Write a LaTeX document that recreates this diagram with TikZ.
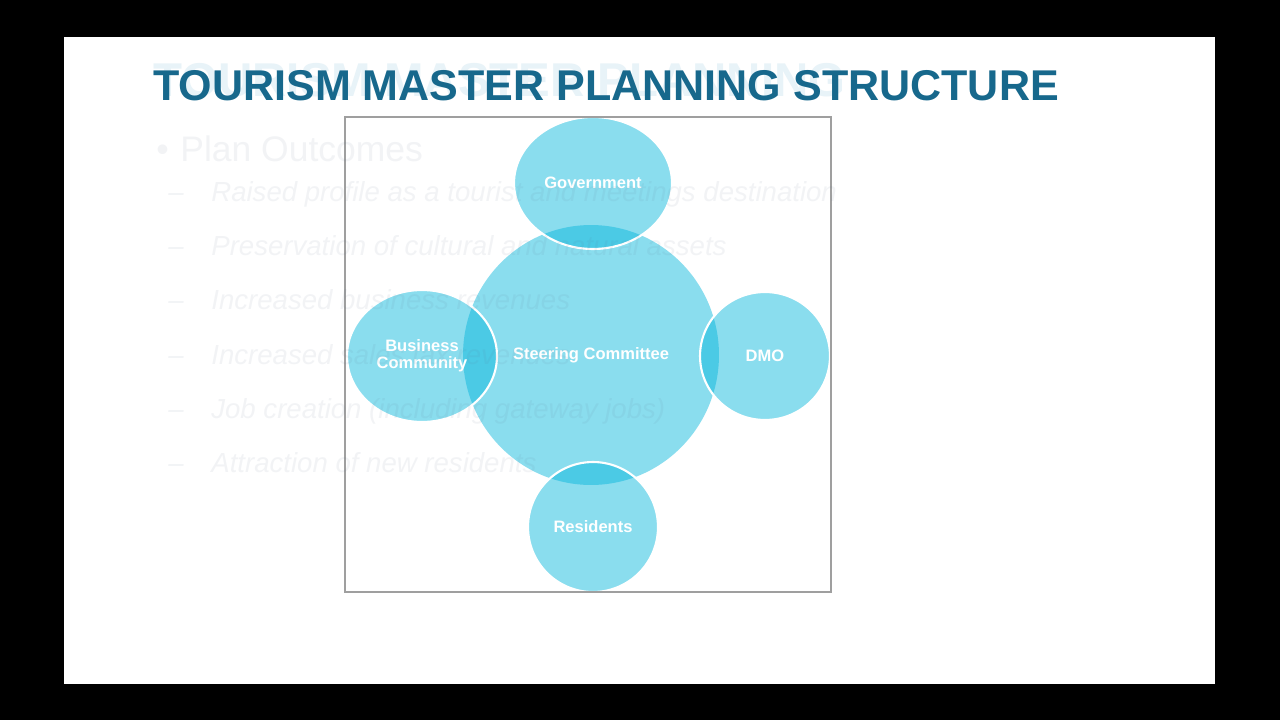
\documentclass[tikz,border=0pt]{standalone}
\usepackage{fontspec}
\setmainfont{Liberation Sans}
\usepackage{xcolor}
\usepackage{tikz}
\usetikzlibrary{shapes.geometric,positioning}
\definecolor{titleblue}{RGB}{23,104,140}
\definecolor{bubblecyan}{RGB}{1,181,220}
\definecolor{ghostgray}{RGB}{90,110,140}
\definecolor{ghostcyan}{RGB}{232,243,248}
\tikzstyle{bubble} = [ellipse, fill=bubblecyan, fill opacity=0.46, text opacity=1, inner sep=0pt, text=white, align=center, font=\fontsize{9.4}{9.8}\selectfont\bfseries]
\tikzstyle{member} = [bubble, draw=white, line width=1.2pt]
\tikzstyle{ghost} = [anchor=base west, inner sep=0pt, text=ghostgray, text opacity=0.08]
\tikzstyle{ghostitem} = [ghost, font=\fontsize{15.7}{18}\selectfont\itshape]

\begin{document}
\begin{tikzpicture}[x=0.02cm, y=-0.02cm]
    % slide
    \fill[black] (0,0) rectangle (1280,720);
    \fill[white] (64,37) rectangle (1215,684);

    \node[anchor=base west, inner sep=0pt, text=ghostcyan, font=\fontsize{27}{30}\selectfont\bfseries] (oldtitle) at (153,96) {TOURISM MASTER PLANNING};
    \node[anchor=base west, inner sep=0pt, text=titleblue, font=\fontsize{24.5}{28}\selectfont\bfseries] (title) at (153,100) {TOURISM MASTER PLANNING STRUCTURE};

    % structure diagram
    \node[bubble, minimum width=5.12cm, minimum height=5.2cm] (steer) at (591,355) {Steering Committee};
    \node[member, minimum width=3.16cm, minimum height=2.64cm] (gov) at (593,183) {Government};
    \node[member, minimum width=3.0cm, minimum height=2.64cm] (biz) at (422,356) {Business\\Community};
    \node[member, minimum width=2.6cm, minimum height=2.56cm] (dmo) at (765,356) {DMO};
    \node[member, minimum width=2.6cm, minimum height=2.6cm] (res) at (593,527) {Residents};
    \draw[gray!75, line width=0.6pt] (345,117) rectangle (831,592);

    % fading slide underneath
    \node[ghost, font=\fontsize{20.2}{22}\selectfont] (bul) at (156,161) {\textbullet};
    \node[ghost, font=\fontsize{20.2}{22}\selectfont] (outc) at (180,161) {Plan Outcomes};
    \node[ghostitem] (d1) at (168,201) {--};
    \node[ghostitem] (o1) at (211,201) {Raised profile as a tourist and meetings destination};
    \node[ghostitem] (d2) at (168,255) {--};
    \node[ghostitem] (o2) at (211,255) {Preservation of cultural and natural assets};
    \node[ghostitem] (d3) at (168,309) {--};
    \node[ghostitem] (o3) at (211,309) {Increased business revenues};
    \node[ghostitem] (d4) at (168,364) {--};
    \node[ghostitem] (o4) at (211,364) {Increased sales tax revenues};
    \node[ghostitem] (d5) at (168,418) {--};
    \node[ghostitem] (o5) at (211,418) {Job creation (including gateway jobs)};
    \node[ghostitem] (d6) at (168,472) {--};
    \node[ghostitem] (o6) at (211,472) {Attraction of new residents};
\end{tikzpicture}
\end{document}
